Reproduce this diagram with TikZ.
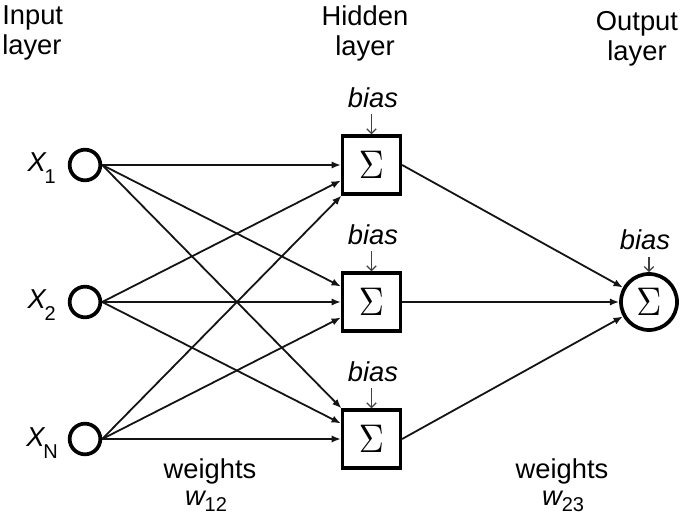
\documentclass[tikz,border=0pt]{standalone}
\usepackage{graphicx}
\usepackage{fontspec}
\setmainfont{Liberation Sans}
\usetikzlibrary{arrows.meta}
\newcommand{\lblfont}{\fontsize{20.5}{22.5}\selectfont}
\newcommand{\subfont}{\fontsize{15}{15}\selectfont}
\newcommand{\bigsig}{\scalebox{2.6}[3.0]{$\Sigma$}}
\tikzset{
  inp/.style={circle, draw=black, line width=2.8pt, minimum size=23pt, inner sep=0pt},
  hid/.style={rectangle, draw=black, line width=2.4pt, minimum size=43.5pt, inner sep=0pt, font=\normalsize},
  outn/.style={circle, draw=black, line width=2.8pt, minimum size=42pt, inner sep=0pt, font=\normalsize},
  conn/.style={draw=black!92, line width=1.35pt, -{Latex[length=7pt,width=5.5pt]}},
  biasarr/.style={draw=black!75, line width=0.9pt, -{Straight Barb[length=3.5pt,width=7pt]}, shorten <=5pt},
  lbl/.style={font=\lblfont, inner sep=0pt},
  biaslbl/.style={font=\lblfont\itshape, inner sep=0pt},
}
\begin{document}
\begin{tikzpicture}[x=0.75pt,y=-0.75pt]
\useasboundingbox (0,0) rectangle (685,516);
% layer titles
\node[lbl, anchor=north west, align=left] (tin) at (2,5) {Input\\layer};
\node[lbl, anchor=north, align=center] (thid) at (365,5) {Hidden\\layer};
\node[lbl, anchor=north, align=center] (tout) at (637,11) {Output\\layer};
% input nodes
\node[inp] (x1) at (85,165) {};
\node[inp] (x2) at (85,302) {};
\node[inp] (x3) at (85,439) {};
\node[lbl, anchor=base east] (lx1) at (56,172) {\itshape X\upshape\kern-1pt\raisebox{-9pt}{\subfont 1}};
\node[lbl, anchor=base east] (lx2) at (56,309) {\itshape X\upshape\kern-1pt\raisebox{-9pt}{\subfont 2}};
\node[lbl, anchor=base east] (lx3) at (58,446) {\itshape X\upshape\kern-1pt\raisebox{-9pt}{\subfont N}};
% hidden nodes
\node[hid] (h1) at (371.5,165) {\bigsig};
\node[hid] (h2) at (371.5,302) {\bigsig};
\node[hid] (h3) at (371.5,439) {\bigsig};
% output node
\node[outn] (o) at (649,302) {\bigsig};
% bias labels
\node[biaslbl] (b1) at (373,97.5) {bias};
\node[biaslbl] (b2) at (373,234.5) {bias};
\node[biaslbl] (b3) at (373,371.5) {bias};
\node[biaslbl] (bo) at (645,240) {bias};
\draw[biasarr] (b1.south -| h1.north) -- (h1.north);
\draw[biasarr] (b2.south -| h2.north) -- (h2.north);
\draw[biasarr] (b3.south -| h3.north) -- (h3.north);
\draw[biasarr] (bo.south -| o.north) -- (o.north);
% connections input -> hidden
\foreach \i in {x1,x2,x3}{
  \foreach \j in {h1,h2,h3}{
    \draw[conn] (\i.east) -- (\j);
  }
}
% hidden -> output
\draw[conn] (h1.east) -- (o);
\draw[conn] (h2.east) -- (o);
\draw[conn] (h3.east) -- (o);
% weights labels
\node[lbl, anchor=base] (wa) at (210,478) {weights};
\node[lbl, anchor=base] (wan) at (206,505) {\itshape w\upshape\raisebox{-5pt}{\subfont 12}};
\node[lbl, anchor=base] (wb) at (562,478) {weights};
\node[lbl, anchor=base] (wbn) at (563,505) {\itshape w\upshape\raisebox{-5pt}{\subfont 23}};
\end{tikzpicture}
\end{document}
